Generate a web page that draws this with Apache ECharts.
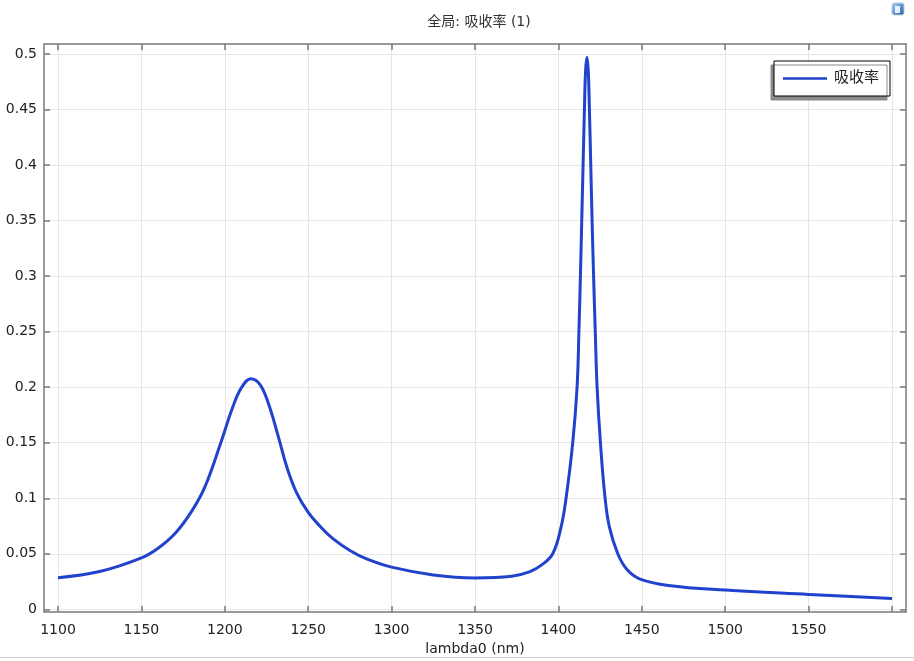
<!DOCTYPE html>
<html>
<head>
<meta charset="utf-8">
<script src="https://cdn.jsdelivr.net/npm/echarts@6/dist/echarts.min.js"></script>
<style>
html,body{margin:0;padding:0;background:#fff;}
#c{width:914px;height:661px;}
</style>
</head>
<body>
<div id="c"></div>
<script>
// Wavelength (nm) and absorption values
const lambda = [1100, 1125, 1150, 1160, 1170, 1180, 1188, 1197.6, 1205, 1210, 1215.6, 1221, 1226, 1232, 1237, 1243, 1250, 1257, 1265, 1275, 1285, 1300, 1325, 1350, 1372, 1383, 1390, 1396.6, 1401.6, 1404.6, 1408.6, 1411.2, 1412.3, 1413.2, 1414, 1414.8, 1415.6, 1416.3, 1417.1, 1417.9, 1418.6, 1419.4, 1420.2, 1421.1, 1422.1, 1423.2, 1425.2, 1428, 1430.6, 1435.6, 1441, 1448.6, 1466, 1500, 1550, 1600];
const absorb = [0.0285, 0.034, 0.0463, 0.055, 0.068, 0.088, 0.110, 0.150, 0.183, 0.1996, 0.2077, 0.2026, 0.186, 0.156, 0.129, 0.105, 0.0872, 0.075, 0.0634, 0.053, 0.0454, 0.038, 0.031, 0.0283, 0.0298, 0.034, 0.040, 0.050, 0.074, 0.100, 0.150, 0.200, 0.250, 0.300, 0.350, 0.400, 0.450, 0.485, 0.497, 0.485, 0.450, 0.400, 0.350, 0.300, 0.250, 0.200, 0.150, 0.100, 0.074, 0.050, 0.036, 0.0275, 0.0215, 0.0173, 0.0134, 0.0097];
const xTicks = [1100, 1150, 1200, 1250, 1300, 1350, 1400, 1450, 1500, 1550, 1600];
const xLabels = [1100, 1150, 1200, 1250, 1300, 1350, 1400, 1450, 1500, 1550];
const yTicks = [0, 0.05, 0.1, 0.15, 0.2, 0.25, 0.3, 0.35, 0.4, 0.45, 0.5];
const titleText = '全局: 吸收率 (1)';
const seriesName = '吸收率';
const xName = 'lambda0 (nm)';

const data = lambda.map((x, i) => [x, absorb[i]]);
const FONT = "'DejaVu Sans', 'Noto Sans CJK SC', sans-serif";
const frame = {show: true, lineStyle: {color: '#7a7a7a', width: 1.5}, onZero: false};
const tickIn = {show: true, inside: true, length: 6, lineStyle: {color: '#7a7a7a', width: 1.5}};
const XMIN = 1091.6, XMAX = 1608.4, YMIN = -0.0025, YMAX = 0.509;

const chart = echarts.init(document.getElementById('c'));
chart.setOption({
  animation: false,
  backgroundColor: '#fff',
  title: {
    text: titleText, left: 474, top: 10, textAlign: 'center',
    textStyle: {fontFamily: FONT, fontSize: 14, fontWeight: 'normal', color: '#333'}
  },
  legend: {
    left: 774, top: 61,
    orient: 'vertical',
    padding: [10, 11, 10, 9],
    backgroundColor: '#fff',
    borderColor: '#000', borderWidth: 1, borderRadius: 0,
    shadowColor: '#8a8a8a', shadowBlur: 0, shadowOffsetX: -3, shadowOffsetY: 4,
    itemWidth: 44, itemHeight: 14,
    textStyle: {fontFamily: FONT, fontSize: 15, color: '#222', padding: [0, 0, 0, 2]},
    data: [{name: seriesName, icon: 'path://M0,6 L44,6 L44,8.5 L0,8.5 Z'}]
  },
  grid: {left: 44, right: 8, top: 44, bottom: 48, containLabel: false},
  xAxis: [{
    type: 'value', min: XMIN, max: XMAX, position: 'bottom',
    name: xName, nameLocation: 'middle', nameGap: 26,
    nameTextStyle: {fontFamily: FONT, fontSize: 14, color: '#222'},
    axisLine: frame,
    axisTick: Object.assign({customValues: xTicks}, tickIn),
    axisLabel: {customValues: xLabels, margin: 11, fontFamily: FONT, fontSize: 14, color: '#222', formatter: v => String(v)},
    splitLine: {show: true, lineStyle: {color: '#e6e6e6', width: 1}}
  }, {
    type: 'value', min: XMIN, max: XMAX, position: 'top',
    axisLine: frame,
    axisTick: Object.assign({customValues: xTicks}, tickIn),
    axisLabel: {show: false},
    splitLine: {show: false}
  }],
  yAxis: [{
    type: 'value', min: YMIN, max: YMAX, position: 'left',
    axisLine: frame,
    axisTick: Object.assign({customValues: yTicks}, tickIn),
    axisLabel: {customValues: yTicks, margin: 7, fontFamily: FONT, fontSize: 14, color: '#222', formatter: v => String(v)},
    splitLine: {show: true, lineStyle: {color: '#e6e6e6', width: 1}}
  }, {
    type: 'value', min: YMIN, max: YMAX, position: 'right',
    axisLine: frame,
    axisTick: Object.assign({customValues: yTicks}, tickIn),
    axisLabel: {show: false},
    splitLine: {show: false}
  }],
  series: [{
    name: seriesName, type: 'line', data: data,
    xAxisIndex: 0, yAxisIndex: 0,
    showSymbol: false, symbol: 'none',
    smooth: 0.4,
    lineStyle: {color: '#2142cc', width: 3},
    itemStyle: {color: '#2142cc'}
  }],
  graphic: [
    {type: 'line', shape: {x1: 0, y1: 657.5, x2: 914, y2: 657.5}, style: {stroke: '#cfcfcf', lineWidth: 1}, silent: true},
    {type: 'rect', shape: {x: 892, y: 3, width: 12, height: 12, r: 2},
     style: {fill: new echarts.graphic.LinearGradient(0, 0, 1, 1, [{offset: 0, color: '#9fd0ff'}, {offset: 1, color: '#1a5fb0'}]), stroke: '#c8c8c8', lineWidth: 1}, silent: true},
    {type: 'rect', shape: {x: 895, y: 6, width: 5, height: 7}, style: {fill: '#e8f3ff'}, silent: true}
  ]
});
</script>
</body>
</html>
